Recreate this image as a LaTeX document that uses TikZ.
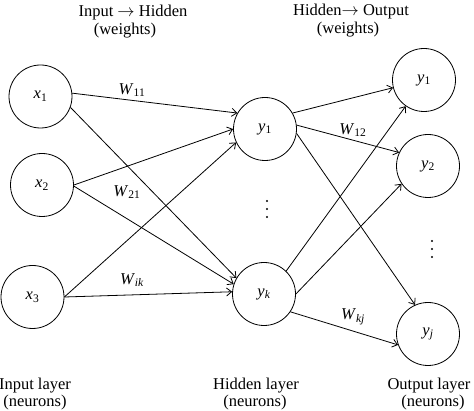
\documentclass[tikz,border=0pt]{standalone}
\usepackage{fontspec}
\setmainfont{Liberation Serif}
\usetikzlibrary{arrows.meta}
\newcommand\vsub[2]{\textit{#1}\textsubscript{#2}}
\tikzset{
  neuron/.style={circle,draw,line width=0.8pt,minimum size=63pt,inner sep=0pt},
  conn/.style={line width=0.8pt,-{Straight Barb[length=5pt,width=8pt]}},
  txt/.style={inner sep=0pt},
  dotm/.style={circle,fill,inner sep=0pt,minimum size=2.4pt}
}
\begin{document}
\begin{tikzpicture}[x=1pt,y=-1pt]
\useasboundingbox (0,0) rectangle (474,411);
\tikzset{every node/.append style={font=\fontsize{16.5}{18}\selectfont}}
% neurons
\node[neuron] (x1) at (40.5,96.5) {\vsub{x}{1}};
\node[neuron] (x2) at (42,185) {\vsub{x}{2}};
\node[neuron] (x3) at (32.5,297) {\vsub{x}{3}};
\node[neuron] (h1) at (265,129) {\vsub{y}{1}};
\node[neuron] (hk) at (264,294) {\vsub{y}{\textit{k}}};
\node[neuron] (o1) at (424,80) {\vsub{y}{1}};
\node[neuron] (o2) at (428,166) {\vsub{y}{2}};
\node[neuron] (oj) at (428,334) {\vsub{y}{\textit{j}}};
% connections input -> hidden
\draw[conn] (x1.6) -- (h1.150);
\draw[conn] (x2.0) -- (h1.180);
\draw[conn] (x3.0) -- (h1.205);
\draw[conn] (x1.-20) -- (hk.150);
\draw[conn] (x2.-2) -- (hk.162);
\draw[conn] (x3.0) -- (hk.176);
% connections hidden -> output
\draw[conn] (h1.30) -- (o1.194);
\draw[conn] (h1.7) -- (o2.155);
\draw[conn] (h1.-8) -- (oj.114);
\draw[conn] (hk.46) -- (o1.235);
\draw[conn] (hk.0) -- (o2.214);
\draw[conn] (hk.-34) -- (oj.200);
% weight labels
\node[txt] (w11) at (132,90) {\vsub{W}{11}};
\node[txt] (w21) at (127,192) {\vsub{W}{21}};
\node[txt] (wik) at (132,280) {\vsub{W}{\textit{ik}}};
\node[txt] (w12) at (353,130) {\vsub{W}{12}};
\node[txt] (wkj) at (353,317) {\vsub{W}{\textit{kj}}};
% dots
\node[dotm] (hd1) at (267,201) {};
\node[dotm] (hd2) at (267,209) {};
\node[dotm] (hd3) at (267,217) {};
\node[dotm] (od1) at (432,241) {};
\node[dotm] (od2) at (432,249) {};
\node[dotm] (od3) at (432,257) {};
% titles
\node[txt] (t1a) at (133,13) {Input $\rightarrow$ Hidden};
\node[txt] (t1b) at (125,31) {(weights)};
\node[txt] (t2a) at (351,12) {Hidden$\rightarrow$ Output};
\node[txt] (t2b) at (348,30) {(weights)};
\node[txt] (b1a) at (35,386) {Input layer};
\node[txt] (b1b) at (35,403) {(neurons)};
\node[txt] (b2a) at (256,386) {Hidden layer};
\node[txt] (b2b) at (255,403) {(neurons)};
\node[txt] (b3a) at (429,386) {Output layer};
\node[txt] (b3b) at (433,403) {(neurons)};
\end{tikzpicture}
\end{document}
